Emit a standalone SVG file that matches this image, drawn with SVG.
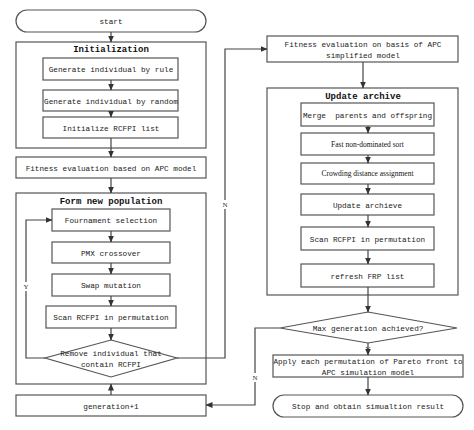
<svg xmlns="http://www.w3.org/2000/svg" width="474" height="430" viewBox="0 0 474 430">
<defs>
<marker id="ah" markerWidth="7" markerHeight="6" refX="6.5" refY="3" orient="auto" markerUnits="userSpaceOnUse">
<path d="M0,0 L7,3 L0,6 Z" fill="#333"/>
</marker>
<style>
.b{fill:#fff;stroke:#555;stroke-width:1.2}
.c{fill:none;stroke:#555;stroke-width:1.2}
.t{font-family:"Liberation Mono",monospace;font-size:7.7px;fill:#222;text-anchor:middle}
.h{font-family:"Liberation Mono",monospace;font-size:9px;font-weight:bold;fill:#111;text-anchor:middle}
.s{font-family:"Liberation Serif",serif;font-size:7.5px;fill:#111;text-anchor:middle}
.l{font-family:"Liberation Serif",serif;font-size:7px;fill:#333;text-anchor:middle}
.a{fill:none;stroke:#444;stroke-width:1.2;marker-end:url(#ah)}
</style>
</defs>
<rect width="474" height="430" fill="#fff"/>

<g id="start"><rect class="b" x="16" y="10" width="190" height="22" rx="11"/><text class="t" x="111" y="24">start</text></g>

<g id="initialization">
<rect class="b" x="16" y="42" width="190" height="106"/>
<text class="h" x="111" y="52">Initialization</text>
</g>
<g id="gen-rule"><rect class="b" x="43" y="58" width="135" height="22"/><text class="t" x="111" y="72">Generate individual by rule</text></g>
<g id="gen-random"><rect class="b" x="43" y="90" width="135" height="21"/><text class="t" x="111" y="103.5">Generate individual by random</text></g>
<g id="init-rcfpi"><rect class="b" x="43" y="117" width="135" height="21"/><text class="t" x="111" y="130.5">Initialize RCFPI list</text></g>

<g id="fitness-apc"><rect class="b" x="16" y="157" width="190" height="21"/><text class="t" x="111" y="170.5">Fitness evaluation based on APC model</text></g>

<g id="form-population">
<rect class="b" x="16" y="193" width="190" height="191"/>
<text class="h" x="111" y="204">Form new population</text>
</g>
<g id="tournament"><rect class="b" x="52" y="209" width="118" height="22"/><text class="t" x="111" y="223">Fournament selection</text></g>
<g id="pmx"><rect class="b" x="52" y="242" width="118" height="21"/><text class="t" x="111" y="255.5">PMX crossover</text></g>
<g id="swap"><rect class="b" x="52" y="274" width="118" height="22"/><text class="t" x="111" y="288">Swap mutation</text></g>
<g id="scan-left"><rect class="b" x="46" y="306" width="130" height="22"/><text class="t" x="111" y="320">Scan RCFPI in permutation</text></g>
<g id="remove-diamond"><polygon class="b" points="111,340 177,358 111,377 45,358"/>
<text class="t" x="111" y="356">Remove individual that</text><text class="t" x="111" y="367">contain RCFPI</text></g>

<g id="generation"><rect class="b" x="16" y="395" width="190" height="21"/><text class="t" x="111" y="408.5">generation+1</text></g>

<g id="fitness-simplified"><rect class="b" x="267" y="36" width="191" height="26"/>
<text class="t" x="363" y="47">Fitness evaluation on basis of APC</text><text class="t" x="363" y="58">simplified model</text></g>

<g id="update-archive-group">
<rect class="b" x="267" y="88" width="191" height="207"/>
<text class="h" x="363" y="99">Update archive</text>
</g>
<g id="merge"><rect class="b" x="301" y="103" width="133" height="23"/><text class="t" x="367.5" y="117.5" xml:space="preserve">Merge  parents and offspring</text></g>
<g id="fast-sort"><rect class="b" x="301" y="133" width="133" height="22"/><text class="s" x="367.5" y="147">Fast non-dominated sort</text></g>
<g id="crowding"><rect class="b" x="301" y="163" width="133" height="21"/><text class="s" x="367.5" y="176">Crowding distance assignment</text></g>
<g id="update-archieve"><rect class="b" x="301" y="194" width="133" height="21"/><text class="t" x="367.5" y="207.5">Update archieve</text></g>
<g id="scan-right"><rect class="b" x="301" y="227" width="133" height="23"/><text class="t" x="367.5" y="241.5">Scan RCFPI in permutation</text></g>
<g id="refresh"><rect class="b" x="301" y="264" width="133" height="23"/><text class="t" x="367.5" y="278.5">refresh FRP list</text></g>

<g id="max-gen"><polygon class="b" points="368,312 457,328 368,343 280,328"/><text class="t" x="368" y="331">Max generation achieved?</text></g>

<g id="apply"><rect class="b" x="273" y="355" width="190" height="22"/>
<text class="t" x="368" y="364">Apply each permutation of Pareto front to</text><text class="t" x="368" y="375">APC simulation model</text></g>

<g id="stop"><rect class="b" x="273" y="395" width="190" height="22" rx="11"/><text class="t" x="368" y="409">Stop and obtain simualtion result</text></g>

<g id="connectors">
<line class="a" x1="111" y1="32" x2="111" y2="42"/>
<line class="a" x1="111" y1="80" x2="111" y2="90"/>
<line class="a" x1="111" y1="111" x2="111" y2="117"/>
<line class="a" x1="111" y1="138" x2="111" y2="157"/>
<line class="a" x1="111" y1="178" x2="111" y2="193"/>
<line class="a" x1="111" y1="231" x2="111" y2="242"/>
<line class="a" x1="111" y1="263" x2="111" y2="274"/>
<line class="a" x1="111" y1="296" x2="111" y2="306"/>
<line class="a" x1="111" y1="328" x2="111" y2="340"/>
<path class="a" d="M45,358 H26 V220 H52"/>
<path class="a" d="M177,358 H225 V49 H267"/>
<line class="a" x1="111" y1="395" x2="111" y2="384"/>
<path class="a" d="M280,328 H255 V405 H206"/>
<line class="a" x1="363" y1="62" x2="363" y2="88"/>
<line class="a" x1="368" y1="126" x2="368" y2="133"/>
<line class="a" x1="368" y1="155" x2="368" y2="163"/>
<line class="a" x1="368" y1="184" x2="368" y2="194"/>
<line class="a" x1="368" y1="215" x2="368" y2="227"/>
<line class="a" x1="368" y1="250" x2="368" y2="264"/>
<line class="a" x1="368" y1="287" x2="368" y2="312"/>
<line class="a" x1="368" y1="343" x2="368" y2="355"/>
<line class="a" x1="368" y1="377" x2="368" y2="395"/>
<rect x="22" y="282" width="8" height="9" fill="#fff"/>
<text class="l" x="26" y="289">Y</text>
<rect x="221" y="200" width="8" height="9" fill="#fff"/>
<text class="l" x="225" y="207">N</text>
<rect x="251" y="373" width="8" height="9" fill="#fff"/>
<text class="l" x="255" y="380">N</text>
<text class="l" x="368" y="351">Y</text>
</g>
</svg>
